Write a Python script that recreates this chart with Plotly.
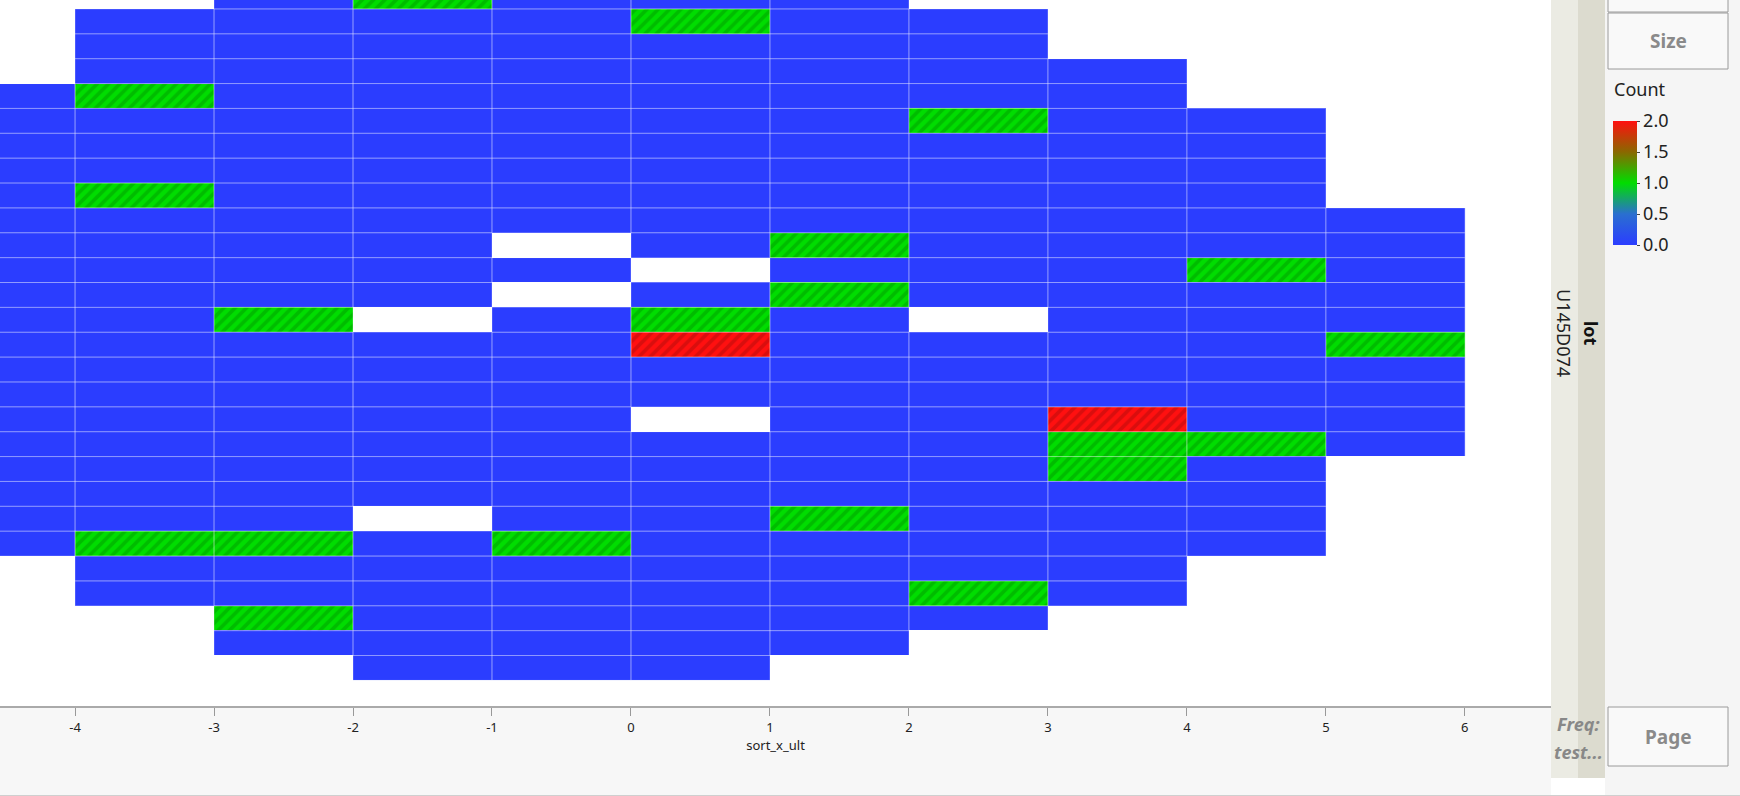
import plotly.graph_objects as go

N = None
# columns: left edge of each die column (sort_x_ult)
cols = [-5, -4, -3, -2, -1, 0, 1, 2, 3, 4, 5]
# rows from top to bottom
rows = list(range(28))
count = [
    [N, N, 0, 1, 0, 0, 0, N, N, N, N],
    [N, 0, 0, 0, 0, 1, 0, 0, N, N, N],
    [N, 0, 0, 0, 0, 0, 0, 0, N, N, N],
    [N, 0, 0, 0, 0, 0, 0, 0, 0, N, N],
    [0, 1, 0, 0, 0, 0, 0, 0, 0, N, N],
    [0, 0, 0, 0, 0, 0, 0, 1, 0, 0, N],
    [0, 0, 0, 0, 0, 0, 0, 0, 0, 0, N],
    [0, 0, 0, 0, 0, 0, 0, 0, 0, 0, N],
    [0, 1, 0, 0, 0, 0, 0, 0, 0, 0, N],
    [0, 0, 0, 0, 0, 0, 0, 0, 0, 0, 0],
    [0, 0, 0, 0, N, 0, 1, 0, 0, 0, 0],
    [0, 0, 0, 0, 0, N, 0, 0, 0, 1, 0],
    [0, 0, 0, 0, N, 0, 1, 0, 0, 0, 0],
    [0, 0, 1, N, 0, 1, 0, N, 0, 0, 0],
    [0, 0, 0, 0, 0, 2, 0, 0, 0, 0, 1],
    [0, 0, 0, 0, 0, 0, 0, 0, 0, 0, 0],
    [0, 0, 0, 0, 0, 0, 0, 0, 0, 0, 0],
    [0, 0, 0, 0, 0, N, 0, 0, 2, 0, 0],
    [0, 0, 0, 0, 0, 0, 0, 0, 1, 1, 0],
    [0, 0, 0, 0, 0, 0, 0, 0, 1, 0, N],
    [0, 0, 0, 0, 0, 0, 0, 0, 0, 0, N],
    [0, 0, 0, N, 0, 0, 1, 0, 0, 0, N],
    [0, 1, 1, 0, 1, 0, 0, 0, 0, 0, N],
    [N, 0, 0, 0, 0, 0, 0, 0, 0, N, N],
    [N, 0, 0, 0, 0, 0, 0, 1, 0, N, N],
    [N, N, 1, 0, 0, 0, 0, 0, N, N, N],
    [N, N, 0, 0, 0, 0, 0, N, N, N, N],
    [N, N, N, 0, 0, 0, N, N, N, N, N],
]
xticks = [-4, -3, -2, -1, 0, 1, 2, 3, 4, 5, 6]

W, H = 1740, 796
PW, PH = 1551, 706  # plot area in px

fig = go.Figure()
fig.add_trace(go.Heatmap(
    z=count, x=[c + 0.5 for c in cols], y=rows,
    zmin=0, zmax=2,
    colorscale=[[0, '#2b3dff'], [0.25, '#2a6fd0'], [0.5, '#00dd00'],
                [0.75, '#8a6800'], [1, '#ff1010']],
    colorbar=dict(x=1603 / PW, xanchor='left', y=1 - 183 / PH, yanchor='middle',
                  len=144, lenmode='pixels', thickness=24, outlinewidth=0,
                  tickvals=[0, 0.5, 1, 1.5, 2], ticktext=['0.0', '0.5', '1.0', '1.5', '2.0'],
                  ticks='outside', ticklen=3, tickfont=dict(size=18, color='#222')),
    hoverinfo='skip'))

# hatched overlay for cells with a count, faint outline for all cells
hx, hb, gx, gb = [], [], [], []
for r, row in zip(rows, count):
    for c, v in zip(cols, row):
        if v:
            hx.append(c + 0.5)
            hb.append(r - 0.5)
        if v is not None:
            gx.append(c + 0.5)
            gb.append(r - 0.5)
fig.add_trace(go.Bar(
    x=hx, y=[1] * len(hx), base=hb, width=1,
    marker=dict(color='rgba(0,0,0,0)', line_width=0,
                pattern=dict(shape='/', size=8, solidity=0.45,
                             fgcolor='rgba(0,0,0,0.3)', fillmode='overlay')),
    showlegend=False, hoverinfo='skip'))
fig.add_trace(go.Bar(
    x=gx, y=[1] * len(gx), base=gb, width=1,
    marker=dict(color='rgba(0,0,0,0)', line=dict(color='rgba(255,255,255,0.28)', width=1)),
    showlegend=False, hoverinfo='skip'))

shapes = [
    dict(x0=0, x1=PW / PW, y0=-90 / PH, y1=0, color='#f7f7f7'),
    dict(x0=0, x1=W / PW, y0=-96 / PH, y1=-89 / PH, color='#cfcfcf'),
    dict(x0=1, x1=1578 / PW, y0=-72 / PH, y1=1, color='#ebebe3'),
    dict(x0=1578 / PW, x1=1605 / PW, y0=-72 / PH, y1=1, color='#dcdbcf'),
    dict(x0=1605 / PW, x1=W / PW, y0=-89 / PH, y1=1, color='#f5f5f5'),
]
for s in shapes:
    fig.add_shape(type='rect', xref='paper', yref='paper', x0=s['x0'], x1=s['x1'],
                  y0=s['y0'], y1=s['y1'], fillcolor=s['color'], line_width=0, layer='below')
for y0, y1 in [(-30, 12), (13, 69), (707, 766)]:
    fig.add_shape(type='rect', xref='paper', yref='paper', x0=1608 / PW, x1=1728 / PW,
                  y0=1 - y1 / PH, y1=1 - y0 / PH, fillcolor='#f9f9f9',
                  line=dict(color='#9a9a9a', width=1), layer='below')

def note(text, x, y, **kw):
    kw.setdefault('xanchor', 'center')
    fig.add_annotation(text=text, xref='paper', yref='paper', x=x / PW, y=1 - y / PH,
                       yanchor='middle', showarrow=False, **kw)

note('<b>Size</b>', 1668, 41, font=dict(size=19, color='#8a8a8a'))
note('<b>Page</b>', 1668, 737, font=dict(size=19, color='#8a8a8a'))
note('Count', 1612, 89, xanchor='left', font=dict(size=18, color='#222'))
note('<b>lot</b>', 1591, 333, textangle=90, font=dict(size=18, color='#111'))
note('U145D074', 1564, 333, textangle=90, font=dict(size=18, color='#222'))
note('<b><i>Freq:</i></b>', 1578, 724, font=dict(size=18, color='#888'))
note('<b><i>test...</i></b>', 1578, 752, font=dict(size=18, color='#888'))

fig.update_layout(
    width=W, height=H, margin=dict(l=0, r=W - PW, t=0, b=H - PH),
    paper_bgcolor='white', plot_bgcolor='white', barmode='overlay',
    font=dict(family='Noto Sans, Open Sans, sans-serif'),
    xaxis=dict(range=[-4.54, 6.62], tickvals=xticks, ticktext=[str(t) for t in xticks],
               showgrid=False, zeroline=False,
               ticks='outside', ticklen=8, tickcolor='#999', showline=True,
               linecolor='#aaa', linewidth=2, tickfont=dict(size=13, color='#222'),
               title=dict(text='sort_x_ult', font=dict(size=13, color='#222'), standoff=6)),
    yaxis=dict(range=[28.53, 0.14], showticklabels=False, showgrid=False,
               zeroline=False, ticks=''),
)

fig.write_html("out.html", config={'displayModeBar': False},
               post_script="document.body.style.margin='0';")
